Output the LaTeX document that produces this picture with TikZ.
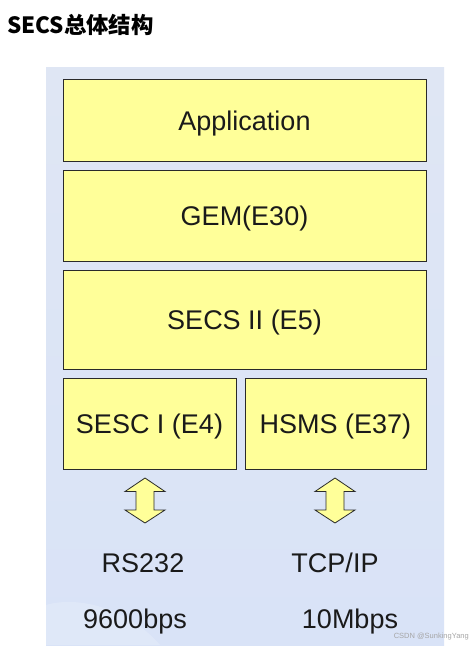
\documentclass[tikz,border=0pt]{standalone}
\usepackage{fontspec}
\setmainfont{Liberation Sans}
\newfontfamily\cjk{Noto Sans CJK SC}
\usetikzlibrary{positioning}
\definecolor{panelblue}{HTML}{D9E3F7}
\definecolor{paneltop}{HTML}{DFE6F4}
\definecolor{boxyellow}{HTML}{FFFF99}
\definecolor{boxedge}{HTML}{2A2A2A}
\definecolor{txt}{HTML}{1A1A1A}
\tikzset{
  layerbox/.style={draw=boxedge, line width=0.9pt, fill=boxyellow, inner sep=0pt,
    text=txt, font=\fontsize{27}{30}\selectfont, text height=19.3pt, text depth=0pt},
  lbl/.style={text=txt, font=\fontsize{27}{30}\selectfont, inner sep=0pt,
    text height=19.3pt, text depth=0pt},
  blockarrow/.style={draw=boxedge, line width=0.8pt, fill=boxyellow, line join=miter}
}
\begin{document}
\begin{tikzpicture}[x=1pt,y=-1pt]
\useasboundingbox (0,0) rectangle (472,650);
\fill[white] (0,0) rectangle (472,650);
% title
\node[anchor=west, inner sep=0pt, font=\cjk\bfseries\fontsize{22.4}{25}\selectfont] (title) at (7,25) {SECS总体结构};
% panel
\shade[top color=paneltop, bottom color=panelblue] (46,68) rectangle (444,645);
\fill[white, opacity=0.18] (46,605) .. controls (80,595) and (130,610) .. (160,645) -- (46,645) -- cycle;
% layers
\node[layerbox, minimum width=363pt, minimum height=82pt] (app) at (244.5,120.5) {Application};
\node[layerbox, minimum width=363pt, minimum height=91pt] (gem) at (244.5,215.5) {GEM(E30)};
\node[layerbox, minimum width=363pt, minimum height=99pt] (secs2) at (244.5,319.5) {SECS II (E5)};
\node[layerbox, minimum width=173pt, minimum height=91pt] (secs1) at (149.5,423.5) {SESC I (E4)};
\node[layerbox, minimum width=181pt, minimum height=91pt] (hsms) at (335.5,423.5) {HSMS (E37)};
% double arrows
\foreach \cx in {145,335}{
  \draw[blockarrow] (\cx,478) -- (\cx+20,491.5) -- (\cx+9,491.5) -- (\cx+9,510) -- (\cx+20,510)
    -- (\cx,523) -- (\cx-20,510) -- (\cx-9,510) -- (\cx-9,491.5) -- (\cx-20,491.5) -- cycle;
}
% labels
\node[lbl] (rs) at (143,563) {RS232};
\node[lbl] (tcp) at (335,563) {TCP/IP};
\node[lbl] (b1) at (135,619) {9600bps};
\node[lbl] (b2) at (350,619) {10Mbps};
\node[anchor=east, inner sep=0pt, text=gray!70, font=\fontsize{7.5}{9}\selectfont] (wm) at (469,637) {CSDN @SunkingYang};
\end{tikzpicture}
\end{document}
